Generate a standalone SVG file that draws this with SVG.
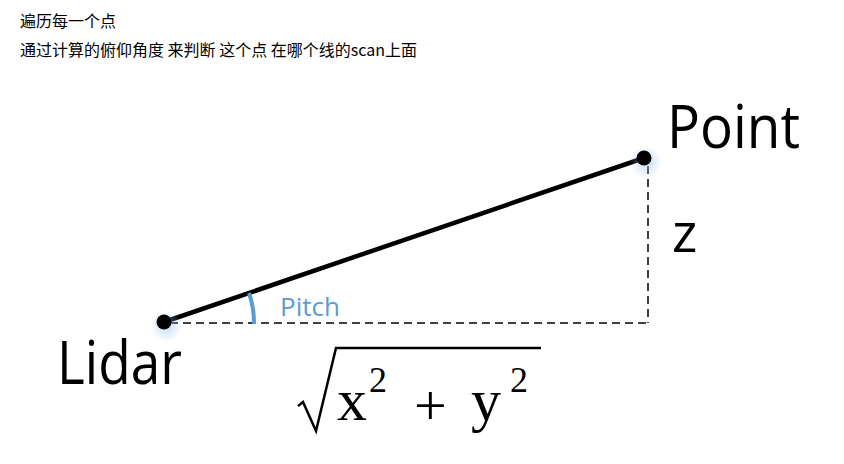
<svg xmlns="http://www.w3.org/2000/svg" width="844" height="464" viewBox="0 0 844 464">
<defs>
<radialGradient id="glow">
<stop offset="0" stop-color="#9dc3f0" stop-opacity="0.6"/>
<stop offset="1" stop-color="#9dc3f0" stop-opacity="0"/>
</radialGradient>
<style>
.cjk{font-family:"Noto Sans CJK SC","Noto Sans",sans-serif;font-size:16px;fill:#000}
.lbl{font-family:"Open Sans","Liberation Sans",sans-serif;fill:#000}
.math{font-family:"Liberation Serif",serif;fill:#000}
.dash{stroke:#000;stroke-width:1.5;stroke-dasharray:8 5;fill:none}
.dot{fill:#000}
</style>
</defs>
<rect width="844" height="464" fill="#fff"/>
<text class="cjk" x="20" y="27">遍历每一个点</text>
<text class="cjk" x="20" y="56">通过计算的俯仰角度 来判断 这个点 在哪个线的scan上面</text>
<g id="connectors">
<line x1="164" y1="322" x2="644" y2="158" stroke="#000" stroke-width="4.5"/>
<line class="dash" x1="170" y1="323" x2="648" y2="323"/>
<line class="dash" x1="648" y1="166" x2="648" y2="323"/>
<path d="M249,293 A90,90 0 0 1 254,324" fill="none" stroke="#5B9BD5" stroke-width="4"/>
</g>
<g id="lidar">
<circle cx="166" cy="326" r="16" fill="url(#glow)"/>
<circle class="dot" cx="164" cy="322" r="7.5"/>
<text class="lbl" x="57" y="384" font-size="60" textLength="125" lengthAdjust="spacingAndGlyphs">Lidar</text>
</g>
<g id="point">
<circle cx="646" cy="162" r="16" fill="url(#glow)"/>
<circle class="dot" cx="644" cy="158" r="7.5"/>
<text class="lbl" x="667" y="148" font-size="60" textLength="133" lengthAdjust="spacingAndGlyphs">Point</text>
</g>
<g id="z">
<text class="lbl" x="672" y="252" font-size="54">z</text>
</g>
<g id="pitch">
<text x="280" y="316" font-family="'Open Sans','Liberation Sans',sans-serif" font-size="26" fill="#5B9BD5">Pitch</text>
</g>
<g id="formula">
<path d="M298,406 L303,402 L316,431 L336,348 L541,348" fill="none" stroke="#000" stroke-width="2.5" stroke-linejoin="miter"/>
<text class="math" x="337" y="420" font-size="60">x</text>
<text class="math" x="369" y="392" font-size="36">2</text>
<text class="math" x="414" y="425" font-size="58">+</text>
<text class="math" x="471" y="420" font-size="60">y</text>
<text class="math" x="510" y="392" font-size="36">2</text>
</g>
</svg>
